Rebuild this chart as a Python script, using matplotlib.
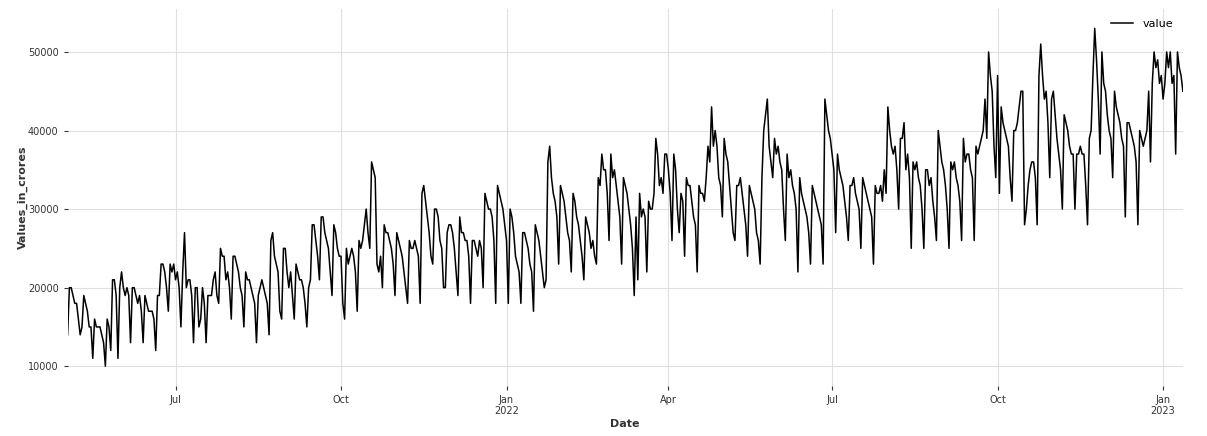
import matplotlib
matplotlib.use("Agg")
import matplotlib.pyplot as plt
import matplotlib.dates as mdates
import numpy as np
import pandas as pd

start_date = "2021-05-02"
# daily values in thousands of crores, one row per week (Sun..Sat)
weeks = [
    [14, 20, 20, 19, 18, 18, 16], [14, 15, 19, 18, 17, 15, 15], [11, 16, 15, 15, 15, 14, 13],
    [10, 16, 15, 12, 21, 21, 19], [11, 20, 22, 20, 19, 20, 19], [13, 20, 20, 19, 18, 19, 17],
    [13, 19, 18, 17, 17, 17, 16], [12, 19, 19, 23, 23, 22, 20], [17, 23, 22, 23, 21, 22, 20],
    [15, 22, 27, 20, 21, 21, 19], [13, 20, 20, 15, 16, 20, 18], [13, 19, 19, 19, 21, 22, 19],
    [18, 25, 24, 24, 21, 22, 20], [16, 24, 24, 23, 22, 20, 19], [15, 22, 21, 21, 20, 19, 18],
    [13, 19, 20, 21, 20, 19, 18], [14, 26, 27, 24, 23, 22, 17], [16, 25, 25, 22, 20, 22, 19],
    [16, 23, 22, 21, 21, 20, 18], [15, 20, 21, 28, 28, 26, 24], [21, 29, 29, 27, 26, 25, 22],
    [19, 28, 27, 25, 24, 24, 18], [16, 25, 23, 24, 25, 24, 22], [17, 26, 25, 26, 28, 30, 27],
    [25, 36, 35, 34, 23, 22, 24], [20, 28, 27, 27, 26, 25, 23], [19, 27, 26, 25, 24, 22, 20],
    [18, 26, 25, 25, 26, 25, 24], [18, 32, 33, 31, 29, 27, 24], [23, 30, 30, 29, 26, 25, 20],
    [20, 27, 28, 28, 27, 25, 22], [19, 29, 27, 27, 26, 26, 24], [18, 26, 26, 25, 24, 26, 25],
    [20, 32, 31, 30, 30, 29, 26], [18, 33, 32, 31, 30, 28, 26], [18, 30, 29, 27, 24, 23, 22],
    [18, 27, 27, 26, 25, 23, 22], [17, 28, 27, 26, 24, 22, 20], [21, 36, 38, 34, 32, 31, 29],
    [23, 33, 32, 31, 29, 27, 26], [22, 32, 31, 29, 28, 26, 24], [21, 29, 28, 27, 25, 26, 24],
    [23, 34, 33, 37, 35, 35, 32], [26, 37, 34, 35, 33, 31, 29], [23, 34, 33, 32, 30, 28, 25],
    [19, 29, 21, 32, 29, 30, 29], [22, 31, 30, 30, 32, 39, 37], [33, 34, 32, 37, 37, 35, 32],
    [26, 37, 35, 30, 27, 32, 31], [24, 34, 33, 33, 31, 29, 28], [22, 33, 32, 32, 31, 34, 38],
    [36, 43, 38, 40, 38, 34, 33], [29, 39, 37, 36, 33, 30, 27], [26, 33, 33, 34, 32, 30, 28],
    [24, 33, 32, 31, 30, 27, 26], [23, 34, 40, 42, 44, 38, 36], [34, 39, 37, 38, 36, 35, 30],
    [26, 37, 34, 35, 33, 32, 30], [22, 34, 32, 31, 30, 29, 27], [23, 33, 32, 31, 30, 29, 28],
    [23, 44, 42, 40, 39, 37, 35], [27, 37, 35, 34, 33, 31, 29], [26, 33, 33, 34, 32, 31, 30],
    [25, 34, 33, 32, 31, 30, 29], [23, 33, 32, 32, 33, 31, 35], [32, 43, 40, 38, 37, 38, 35],
    [30, 39, 39, 41, 35, 37, 34], [25, 36, 35, 36, 34, 33, 30], [25, 35, 35, 33, 34, 31, 29],
    [26, 40, 38, 36, 35, 33, 30], [25, 36, 35, 36, 34, 33, 31], [26, 39, 36, 37, 37, 35, 34],
    [26, 38, 37, 38, 39, 40, 44], [39, 50, 47, 45, 38, 34, 47], [32, 43, 41, 40, 39, 38, 34],
    [31, 40, 40, 41, 43, 45, 45], [28, 30, 33, 35, 36, 36, 34], [28, 47, 51, 47, 44, 45, 41],
    [34, 44, 45, 42, 39, 37, 35], [30, 42, 41, 40, 38, 37, 37], [30, 37, 37, 38, 37, 37, 33],
    [28, 39, 40, 47, 53, 49, 44], [37, 50, 46, 45, 42, 40, 39], [34, 45, 43, 42, 41, 39, 38],
    [29, 41, 41, 40, 39, 38, 36], [28, 40, 39, 38, 39, 40, 45], [36, 46, 50, 48, 49, 46, 47],
    [44, 46, 50, 48, 50, 46, 47], [37, 50, 48, 47, 45],
]
values = np.concatenate([np.array(w, dtype=float) for w in weeks]) * 1000
dates = pd.date_range(start_date, periods=len(values), freq="D")

fig, ax = plt.subplots(figsize=(12.07, 4.36), dpi=100)
fig.subplots_adjust(left=0.056, right=0.98, top=0.98, bottom=0.115)
ax.plot(dates, values, color="black", lw=1.1, label="value")

for s in ax.spines.values():
    s.set_visible(False)
ax.grid(True, color="#e0e0e0", lw=0.8)
ax.set_axisbelow(True)
ax.set_xlim(dates[0], dates[-1])
ax.set_ylim(7500, 55500)
ax.set_yticks([10000, 20000, 30000, 40000, 50000])
ax.xaxis.set_major_locator(mdates.MonthLocator(bymonth=[1, 4, 7, 10]))


def fmt(x, pos):
    d = mdates.num2date(x)
    if d.month == 1:
        return f"Jan\n{d.year}"
    return d.strftime("%b")


ax.xaxis.set_major_formatter(plt.FuncFormatter(fmt))
ax.tick_params(labelsize=7, length=3, color="#333333", labelcolor="#333333")
ax.set_xlabel("Date", fontsize=8, fontweight="bold", color="#333333", labelpad=2)
ax.set_ylabel("Values_in_crores", fontsize=8, fontweight="bold", color="#333333", labelpad=0)
ax.legend(loc="upper right", frameon=False, fontsize=8)
fig.savefig("out.png")
